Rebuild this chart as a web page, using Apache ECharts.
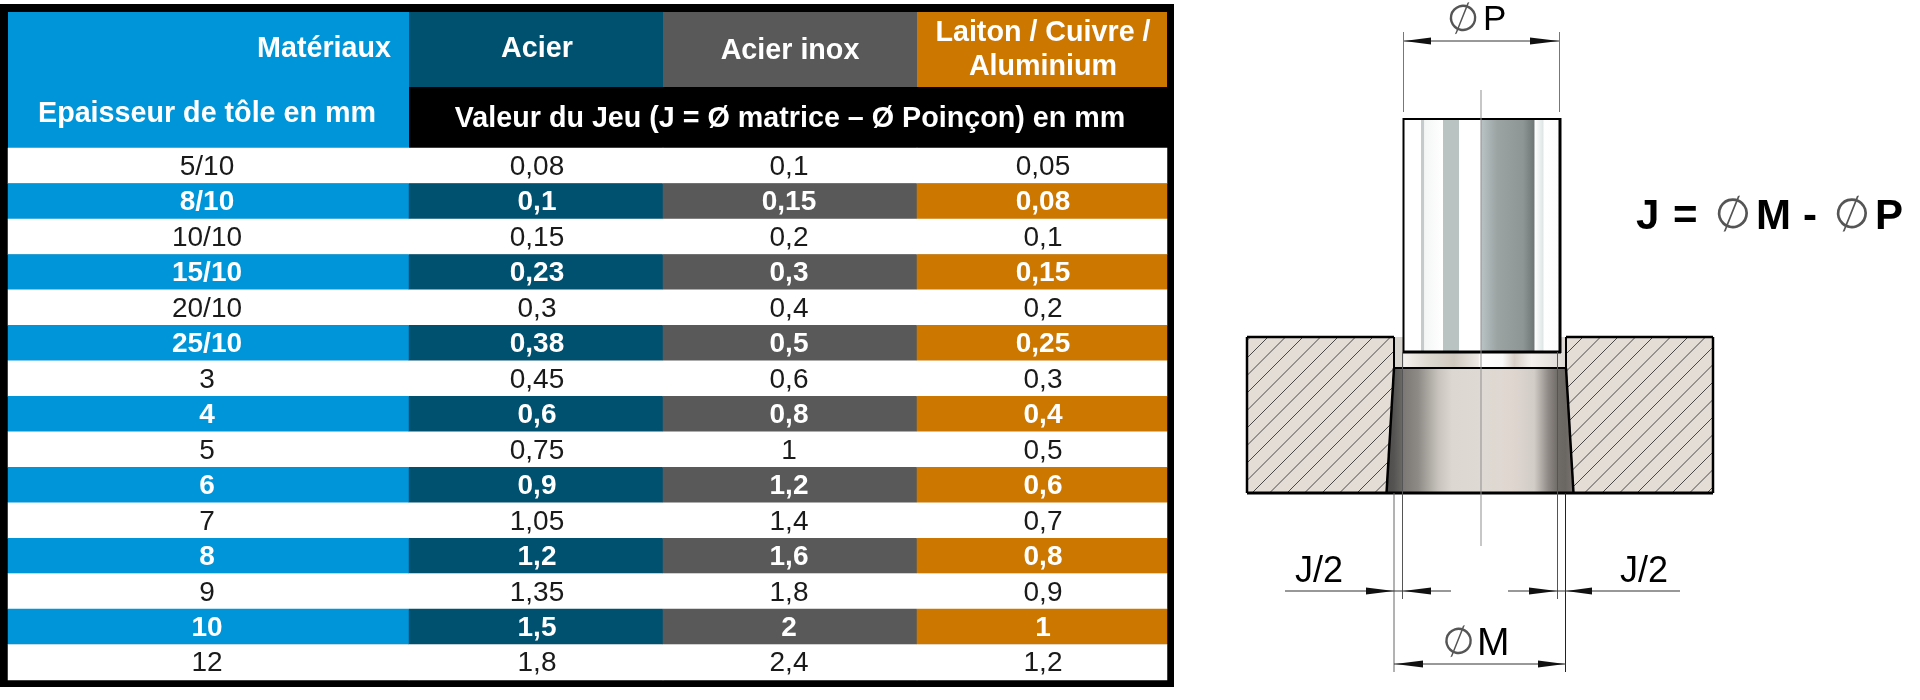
<!DOCTYPE html>
<html>
<head>
<meta charset="utf-8">
<title>Valeur du Jeu</title>
<script src="https://cdn.jsdelivr.net/npm/echarts@6/dist/echarts.min.js"></script>
<style>
    html, body { margin: 0; padding: 0; background: #fff; }
    #chart { width: 1920px; height: 700px; }
</style>
</head>
<body>
<div id="chart"></div>
<script>
// Table data
const thickness = ['5/10', '8/10', '10/10', '15/10', '20/10', '25/10', '3', '4', '5', '6', '7', '8', '9', '10', '12'];
const acier = [0.08, 0.1, 0.15, 0.23, 0.3, 0.38, 0.45, 0.6, 0.75, 0.9, 1.05, 1.2, 1.35, 1.5, 1.8];
const inox = [0.1, 0.15, 0.2, 0.3, 0.4, 0.5, 0.6, 0.8, 1, 1.2, 1.4, 1.6, 1.8, 2, 2.4];
const laiton = [0.05, 0.08, 0.1, 0.15, 0.2, 0.25, 0.3, 0.4, 0.5, 0.6, 0.7, 0.8, 0.9, 1, 1.2];
const materials = ['Epaisseur', 'Acier', 'Acier inox', 'Laiton / Cuivre / Aluminium'];

const SANS = '"Liberation Sans", Arial, sans-serif';
const BLUE = '#0095d8', TEAL = '#00506f', GREY = '#595959', ORANGE = '#cc7700';

const columns = [
    { left: 8, width: 401, color: BLUE, shift: -1.5, values: thickness.map(() => 1) },
    { left: 409, width: 254, color: TEAL, shift: 1, values: acier },
    { left: 663, width: 254, color: GREY, shift: -1, values: inox },
    { left: 917, width: 250, color: ORANGE, shift: 1, values: laiton }
];

const chart = echarts.init(document.getElementById('chart'));

const grids = [], xAxes = [], yAxes = [], series = [];
columns.forEach(function (col, c) {
    grids.push({ left: col.left, width: col.width, top: 148, height: 532 });
    xAxes.push({ type: 'category', gridIndex: c, show: false, data: [materials[c]] });
    yAxes.push({ type: 'category', gridIndex: c, show: false, inverse: true, data: thickness });
    series.push({
        type: 'heatmap',
        xAxisIndex: c,
        yAxisIndex: c,
        silent: true,
        label: {
            show: true,
            fontFamily: SANS,
            fontSize: 28,
            offset: [col.shift, 1.5],
            formatter: function (p) {
                return c === 0 ? thickness[p.dataIndex] : String(p.value[2]).replace('.', ',');
            }
        },
        data: col.values.map(function (v, i) {
            const striped = i % 2 === 1;
            return {
                value: [0, i, v],
                itemStyle: { color: striped ? col.color : '#fff' },
                label: {
                    color: striped ? '#fff' : '#1a1a1a',
                    fontWeight: striped ? 'bold' : 'normal'
                }
            };
        })
    });
});

// Graphic helpers
function rect(x, y, w, h, fill) {
    return { type: 'rect', shape: { x: x, y: y, width: w, height: h }, style: { fill: fill } };
}
function line(x1, y1, x2, y2, stroke, width) {
    return { type: 'line', shape: { x1: x1, y1: y1, x2: x2, y2: y2 }, style: { stroke: stroke, lineWidth: width } };
}
function poly(points, fill) {
    return { type: 'polygon', shape: { points: points }, style: { fill: fill } };
}
function label(text, x, y, size, weight, color, align) {
    return {
        type: 'text', x: x, y: y,
        style: {
            text: text, fill: color || '#000', textAlign: align || 'center', textVerticalAlign: 'middle',
            font: (weight || 'normal') + ' ' + size + 'px ' + SANS
        }
    };
}
function arrow(tip, base, y) {
    return poly([[tip, y], [base, y - 3.5], [base, y + 3.5]], '#111');
}
// diameter sign, turned a little so the bar stands as steep as in the drawing
function diam(x, y, size) {
    return {
        type: 'text', x: x, y: y, rotation: 0.3,
        style: { text: '∅', fill: '#555', textAlign: 'center', textVerticalAlign: 'middle', font: size + 'px "DejaVu Sans"' }
    };
}
function hGradient(stops) {
    return new echarts.graphic.LinearGradient(0, 0, 1, 0, stops.map(function (s) {
        return { offset: s[0], color: s[1] };
    }));
}

const els = [];

// Table frame and header
els.push(rect(0, 4, 1174, 683, '#000'));
els.push(rect(8, 12, 401, 136, BLUE));
els.push(rect(409, 12, 254, 75, TEAL));
els.push(rect(663, 12, 254, 75, GREY));
els.push(rect(917, 12, 250, 75, ORANGE));
els.push(label('Matériaux', 391, 49, 28.7, 'bold', '#fff', 'right'));
els.push(label('Epaisseur de tôle en mm', 207, 114, 28.7, 'bold', '#fff'));
els.push(label('Acier', 537, 49, 28.7, 'bold', '#fff'));
els.push(label('Acier inox', 790, 51, 28.7, 'bold', '#fff'));
els.push(label('Laiton / Cuivre /', 1043, 33, 28.7, 'bold', '#fff'));
els.push(label('Aluminium', 1043, 67, 28.7, 'bold', '#fff'));
els.push(label('Valeur du Jeu (J = Ø matrice – Ø Poinçon) en mm', 790, 119, 28.7, 'bold', '#fff'));

// Die block with hatching
els.push(rect(1247, 337, 466, 156, '#e3ddd6'));
for (let c = 1587.5; c < 1713 + 493; c += 17.5) {
    // hatch line x + y = c, cut to the block
    const x1 = Math.max(1247, c - 493);
    const x2 = Math.min(1713, c - 337);
    els.push(line(x1, c - x1, x2, c - x2, '#4a4846', 1));
}

// Clearance ring under the punch
els.push(rect(1394, 337, 172, 31, hGradient([
    [0, '#d8d4ce'], [0.05, '#d8d4ce'], [0.06, '#f4f2ee'], [0.2, '#ddd8d0'], [0.35, '#cfc9c0'],
    [0.49, '#eee9e4'], [0.5, '#ffffff'], [0.63, '#fbfafa'], [0.7, '#d8d0c8'], [0.8, '#f4f1ee'], [1, '#dcd8d4']
])));

// Tapered hole
els.push(poly([[1394, 368], [1566, 368], [1573.5, 493], [1386.5, 493]], hGradient([
    [0, '#4d4c4a'], [0.04, '#565452'], [0.085, '#6b6966'], [0.09, '#7b7875'], [0.17, '#8e8b86'],
    [0.28, '#c9c5be'], [0.35, '#dcd8d1'], [0.49, '#dedad3'], [0.67, '#e0d6d0'], [0.79, '#d2cdc7'],
    [0.865, '#8f8a85'], [0.915, '#6f6b66'], [0.957, '#6a6661'], [1, '#7a7570']
])));

// Die outline
els.push(line(1247, 337, 1394, 337, '#000', 2.5));
els.push(line(1566, 337, 1713, 337, '#000', 2.5));
els.push(line(1247, 337, 1247, 493, '#000', 2.5));
els.push(line(1713, 337, 1713, 493, '#000', 2.5));
els.push(line(1247, 493, 1713, 493, '#000', 3));
els.push(line(1394, 337, 1394, 368, '#000', 2));
els.push(line(1566, 337, 1566, 368, '#000', 2));
els.push(line(1394, 368, 1386.5, 493, '#000', 2.5));
els.push(line(1566, 368, 1573.5, 493, '#000', 2.5));
els.push(line(1394, 368, 1566, 368, '#000', 2));

// Punch
els.push(rect(1403, 119, 157, 233, hGradient([
    [0, '#ffffff'], [0.113, '#ffffff'], [0.114, '#c5cbca'], [0.136, '#c5cbca'], [0.137, '#f4f6f6'],
    [0.255, '#ffffff'], [0.256, '#b9c3c2'], [0.354, '#b9c3c2'], [0.355, '#ffffff'], [0.495, '#ffffff'],
    [0.496, '#bac4c4'], [0.6, '#9ba3a3'], [0.765, '#8d9595'], [0.835, '#6f7676'], [0.84, '#ffffff'],
    [0.89, '#e0e6e6'], [0.9, '#ffffff'], [1, '#fbfbfb']
])));
els.push(line(1403, 119, 1560, 119, '#000', 2));
els.push(line(1403.5, 118, 1403.5, 352, '#000', 2));
els.push(line(1560, 118, 1560, 353, '#000', 3));
els.push(line(1403, 352, 1561, 352, '#000', 3));

// Centre line and construction lines
els.push(line(1481, 90, 1481, 546, '#8f8f8f', 1));
els.push(line(1402.5, 352, 1402.5, 599, '#555', 1));
els.push(line(1557.5, 352, 1557.5, 599, '#555', 1));
els.push(line(1394, 493, 1394, 672, '#666', 1));
els.push(line(1565.5, 493, 1565.5, 672, '#222', 1));

// Dimension ØP
els.push(line(1403.5, 32, 1403.5, 112, '#777', 1));
els.push(line(1559.5, 32, 1559.5, 112, '#777', 1));
els.push(line(1404, 41, 1559, 41, '#333', 1));
els.push(arrow(1404, 1431, 41));
els.push(arrow(1559, 1530, 41));
els.push(diam(1464, 21, 37));
els.push(label('P', 1483, 20.5, 35, 'normal', '#000', 'left'));

// Dimension ØM
els.push(line(1394, 664, 1566, 664, '#333', 1));
els.push(arrow(1395, 1423, 664));
els.push(arrow(1565, 1538, 664));
els.push(diam(1459.5, 644, 37));
els.push(label('M', 1477, 644, 39, 'normal', '#000', 'left'));

// Dimensions J/2
els.push(line(1285, 591, 1451, 591, '#333', 1.2));
els.push(line(1508, 591, 1680, 591, '#333', 1.2));
els.push(arrow(1394, 1366, 591));
els.push(arrow(1403, 1431, 591));
els.push(arrow(1557, 1529, 591));
els.push(arrow(1566, 1592, 591));
els.push(label('J/2', 1295, 572, 36, 'normal', '#000', 'left'));
els.push(label('J/2', 1620, 572, 36, 'normal', '#000', 'left'));

// Formula
els.push(label('J', 1636, 217, 42, 'bold', '#000', 'left'));
els.push(label('=', 1673, 217, 42, 'bold', '#000', 'left'));
els.push(diam(1734, 217, 42));
els.push(label('M', 1756, 217, 42, 'bold', '#000', 'left'));
els.push(label('-', 1803, 217, 42, 'bold', '#000', 'left'));
els.push(diam(1853, 217, 42));
els.push(label('P', 1875, 217, 42, 'bold', '#000', 'left'));

chart.setOption({
    animation: false,
    backgroundColor: '#fff',
    grid: grids,
    xAxis: xAxes,
    yAxis: yAxes,
    series: series,
    graphic: { elements: els }
});
</script>
</body>
</html>
